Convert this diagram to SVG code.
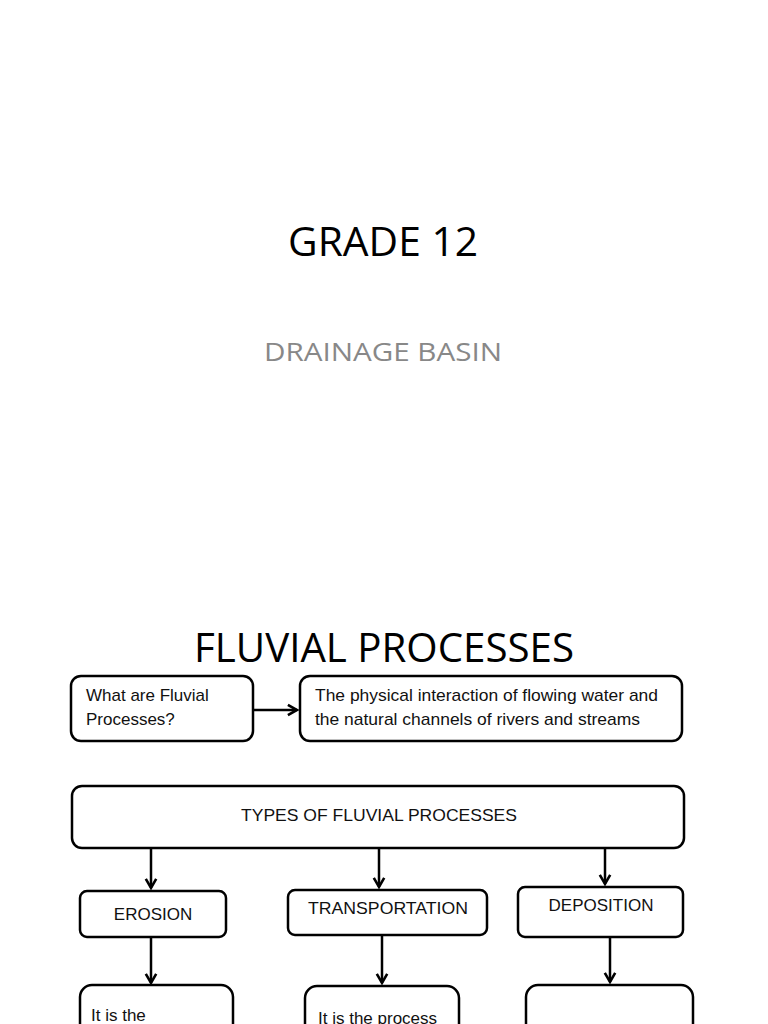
<svg xmlns="http://www.w3.org/2000/svg" width="768" height="1024" viewBox="0 0 768 1024">
<defs>
<style>
.b{fill:#fff;stroke:#000;stroke-width:2.5}
.t{font-family:"Liberation Sans",Arial,sans-serif;font-size:17px;fill:#111}
.c{stroke:#000;stroke-width:2.5;fill:none;marker-end:url(#a)}
</style>
<marker id="a" viewBox="0 0 10 10" refX="9" refY="5" markerWidth="13" markerHeight="13" orient="auto" markerUnits="userSpaceOnUse" overflow="visible"><path d="M2,1 L9,5 L2,9" fill="none" stroke="#000" stroke-width="2"/></marker>
</defs>
<rect width="768" height="1024" fill="#fff"/>
<text x="383" y="256" text-anchor="middle" font-family="Open Sans,sans-serif" font-size="40" textLength="190" lengthAdjust="spacingAndGlyphs">GRADE 12</text>
<text x="383" y="361" text-anchor="middle" font-family="Open Sans,sans-serif" font-size="26" fill="#888" textLength="238" lengthAdjust="spacingAndGlyphs">DRAINAGE BASIN</text>
<text x="384" y="662" text-anchor="middle" font-family="Open Sans,sans-serif" font-size="40" textLength="380" lengthAdjust="spacingAndGlyphs">FLUVIAL PROCESSES</text>
<g id="connectors">
<path class="c" d="M253,710 H297"/>
<path class="c" d="M151,848 V888"/>
<path class="c" d="M379,848 V887"/>
<path class="c" d="M605,848 V884"/>
<path class="c" d="M151,937 V983"/>
<path class="c" d="M382,935 V983"/>
<path class="c" d="M610,937 V982"/>
</g>
<g id="q"><rect class="b" x="71" y="676" width="182" height="65" rx="10"/><text class="t" x="86" y="701">What are Fluvial</text><text class="t" x="86" y="725">Processes?</text></g>
<g id="def"><rect class="b" x="300" y="676" width="382" height="65" rx="10"/><text class="t" x="315" y="701" textLength="343" lengthAdjust="spacingAndGlyphs">The physical interaction of flowing water and</text><text class="t" x="315" y="725" textLength="325" lengthAdjust="spacingAndGlyphs">the natural channels of rivers and streams</text></g>
<g id="types"><rect class="b" x="72" y="786" width="612" height="62" rx="10"/><text class="t" x="379" y="821" text-anchor="middle" textLength="276" lengthAdjust="spacingAndGlyphs">TYPES OF FLUVIAL PROCESSES</text></g>
<g id="erosion"><rect class="b" x="80" y="891" width="146" height="46" rx="7"/><text class="t" x="153" y="920" text-anchor="middle">EROSION</text></g>
<g id="transport"><rect class="b" x="288" y="890" width="199" height="45" rx="7"/><text class="t" x="388" y="914" text-anchor="middle" textLength="160" lengthAdjust="spacingAndGlyphs">TRANSPORTATION</text></g>
<g id="deposition"><rect class="b" x="518" y="887" width="165" height="50" rx="7"/><text class="t" x="601" y="911" text-anchor="middle">DEPOSITION</text></g>
<g id="e2"><rect class="b" x="80" y="985" width="153" height="60" rx="12"/><text class="t" x="91" y="1021">It is the</text></g>
<g id="t2"><rect class="b" x="305" y="986" width="154" height="60" rx="12"/><text class="t" x="318" y="1024">It is the process</text></g>
<g id="d2"><rect class="b" x="526" y="985" width="167" height="60" rx="12"/></g>
</svg>
